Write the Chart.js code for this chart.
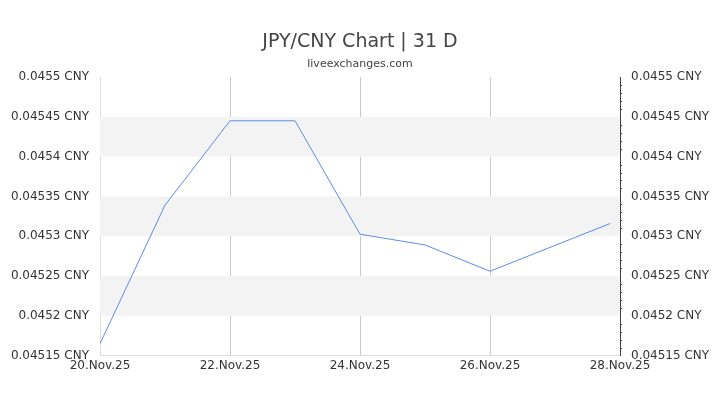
<!DOCTYPE html>
<html>
<head>
<meta charset="utf-8">
<script src="https://cdn.jsdelivr.net/npm/chart.js@4/dist/chart.umd.min.js"></script>
<style>body{margin:0;background:#fff}</style>
</head>
<body>
<canvas id="c" width="720" height="405"></canvas>
<script>
// days after 20.Nov.25
const dayOffsets = [0, 1, 2, 3, 4, 5, 6, 7.85];
const rates = [0.045165, 0.045339, 0.045445, 0.045445, 0.0453025, 0.045289, 0.045256, 0.045316];
const dateLabels = {0: '20.Nov.25', 2: '22.Nov.25', 4: '24.Nov.25', 6: '26.Nov.25', 8: '28.Nov.25'};
const yMin = 0.04515, yMax = 0.0455, yStep = 0.00005;

const fmt = v => parseFloat(v.toFixed(5)) + ' CNY';

// grey bands and right minor ticks
const bands = {
    id: 'bands',
    beforeDatasetsDraw(chart) {
        const {ctx, chartArea: a, scales: {y}} = chart;
        ctx.save();
        ctx.fillStyle = '#f3f3f3';
        [[0.0454, 0.04545], [0.0453, 0.04535], [0.0452, 0.04525]].forEach(([lo, hi]) => {
            ctx.fillRect(a.left, y.getPixelForValue(hi), a.right - a.left, y.getPixelForValue(lo) - y.getPixelForValue(hi));
        });
        ctx.strokeStyle = '#444';
        ctx.lineWidth = 1;
        for (let i = 0; i <= 35; i++) {
            const py = Math.round(y.getPixelForValue(yMin + i * 0.00001)) + 0.5;
            ctx.beginPath();
            ctx.moveTo(a.right, py);
            ctx.lineTo(a.right + (i % 5 === 0 ? 0 : 2), py);
            ctx.stroke();
        }
        ctx.restore();
    }
};

new Chart(document.getElementById('c'), {
    type: 'line',
    data: {
        datasets: [{
            data: dayOffsets.map((d, i) => ({x: d, y: rates[i]})),
            borderColor: '#5b8de8',
            borderWidth: 1,
            pointRadius: 0,
            tension: 0
        }]
    },
    options: {
        responsive: false,
        animation: false,
        layout: {padding: {top: 0, bottom: 29}},
        plugins: {
            legend: {display: false},
            tooltip: {enabled: false},
            title: {display: true, text: 'JPY/CNY Chart | 31 D', color: '#444',
                font: {family: 'DejaVu Sans', size: 19, weight: 'normal'}, padding: {top: 31, bottom: 4}},
            subtitle: {display: true, text: 'liveexchanges.com', color: '#444',
                font: {family: 'DejaVu Sans', size: 11}, padding: {bottom: 6}}
        },
        scales: {
            x: {
                type: 'linear', min: 0, max: 8,
                ticks: {stepSize: 2, callback: v => dateLabels[v] || '', color: '#333',
                    font: {family: 'DejaVu Sans', size: 12}, maxRotation: 0},
                grid: {color: ctx => (ctx.tick && (ctx.tick.value === 0 || ctx.tick.value === 8)) ? 'rgba(0,0,0,0)' : '#c8c8c8', drawTicks: false},
                border: {color: '#ddd'}
            },
            y: {
                position: 'left', min: yMin, max: yMax,
                afterFit: s => { s.width = 100; },
                ticks: {stepSize: yStep, callback: fmt, color: '#333', font: {family: 'DejaVu Sans', size: 12}},
                grid: {display: false},
                border: {color: '#ddd'}
            },
            y2: {
                position: 'right', min: yMin, max: yMax,
                afterFit: s => { s.width = 100; },
                ticks: {stepSize: yStep, callback: fmt, color: '#333', font: {family: 'DejaVu Sans', size: 12}},
                grid: {display: false},
                border: {color: '#444'}
            }
        }
    },
    plugins: [bands]
});
</script>
</body>
</html>
